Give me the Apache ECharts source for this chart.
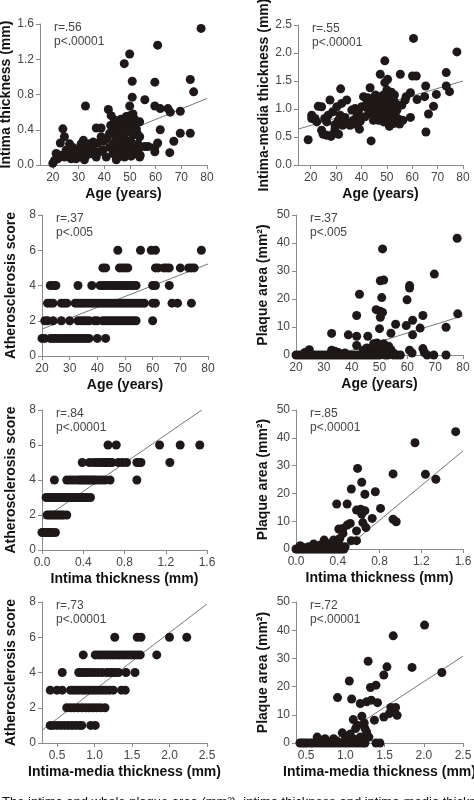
<!DOCTYPE html>
<html>
<head>
<meta charset="utf-8">
<script src="https://cdn.jsdelivr.net/npm/echarts@6/dist/echarts.min.js"></script>
<style>
html, body {margin: 0; padding: 0; background: #fff;}
#chart {width: 474px; height: 800px;}
</style>
</head>
<body>
<div id="chart"></div>
<script>
// age vs intima thickness (mm)
const ageIntima = [
    [77.7, 1.55], [60.8, 1.36], [49.9, 1.26], [47.8, 1.15], [50.9, 0.95], [59.7, 0.94], [73.5, 0.97], [74.8, 0.83],
    [32.7, 0.67], [50.9, 0.77], [55.8, 0.74], [59.7, 0.67], [61.8, 0.64], [64.8, 0.64], [65.7, 0.60], [69.6, 0.61],
    [41.6, 0.63], [49.9, 0.67], [48.6, 0.51], [51.2, 0.58], [53.8, 0.49], [61.8, 0.40], [60.8, 0.25], [69.6, 0.36],
    [73.5, 0.36], [67.1, 0.27], [65.5, 0.14], [59.7, 0.15], [59.7, 0.20], [55.8, 0.21], [57.1, 0.21], [23.9, 0.41],
    [24.5, 0.32], [22.9, 0.25], [26.5, 0.24], [36.9, 0.42], [38.8, 0.42], [38.8, 0.32], [44.0, 0.51], [43.4, 0.43],
    [44.7, 0.38], [42.1, 0.36], [46.0, 0.39], [47.3, 0.41], [49.2, 0.43], [51.2, 0.45], [52.5, 0.41], [51.2, 0.34],
    [53.8, 0.32], [45.3, 0.28], [43.4, 0.24], [42.1, 0.20], [47.3, 0.24], [49.2, 0.20], [51.2, 0.17], [52.5, 0.13],
    [53.8, 0.09], [45.3, 0.09], [43.4, 0.13], [40.8, 0.09], [38.2, 0.15], [35.6, 0.19], [34.3, 0.24], [33.0, 0.19],
    [31.7, 0.13], [30.4, 0.09], [28.4, 0.11], [27.8, 0.20], [29.7, 0.17], [25.8, 0.13], [24.5, 0.09], [23.2, 0.11],
    [21.9, 0.07], [20.6, 0.05], [20.0, 0.02], [21.3, 0.13], [35.0, 0.13], [36.9, 0.09], [32.3, 0.06], [27.1, 0.07],
    [39.5, 0.17], [46.6, 0.15], [47.9, 0.09], [44.7, 0.06], [50.5, 0.10], [54.0, 0.11], [48.6, 0.55], [49.9, 0.56],
    [42.7, 0.56], [46.6, 0.32], [48.6, 0.28], [50.5, 0.26], [53.1, 0.24], [31.0, 0.24], [29.0, 0.07], [25.2, 0.17],
    [35.7, 0.26], [31.9, 0.28], [41.0, 0.30], [42.5, 0.45], [44.5, 0.30], [45.5, 0.47], [46.5, 0.52], [47.5, 0.35],
    [48.0, 0.45], [49.5, 0.38], [50.0, 0.50], [51.8, 0.52], [52.8, 0.36], [53.5, 0.19], [44.0, 0.18], [46.0, 0.22],
    [48.0, 0.14], [50.0, 0.12], [37.5, 0.25], [39.8, 0.27], [33.8, 0.12], [26.7, 0.09], [28.9, 0.15], [30.7, 0.18]
];

// age vs intima-media thickness (mm)
const ageImt = [
    [19, 0.45], [60.5, 2.26], [77.6, 2.02], [49.2, 1.86], [55.3, 1.62], [47.4, 1.62], [60.1, 1.59], [61.6, 1.59],
    [73.4, 1.65], [31.8, 1.36], [43.4, 1.38], [50.3, 1.53], [49.2, 1.47], [65.3, 1.41], [73.4, 1.41], [74.7, 1.31],
    [69.5, 1.26], [61.9, 1.17], [59.3, 1.29], [64.9, 1.22], [68.4, 1.05], [59.3, 0.85], [66.4, 0.91], [65.4, 0.59],
    [43.8, 0.43], [39.2, 0.64], [55, 0.73], [51, 0.69], [23, 1.05], [24.3, 1.04], [26.9, 0.89], [20.4, 0.83],
    [22.4, 0.77], [26.3, 0.77], [24.3, 0.62], [24.9, 0.55], [26.3, 0.53], [28, 0.51], [28.9, 0.56], [29.6, 0.65],
    [27.6, 1.16], [28.7, 0.95], [31.6, 0.89], [30.9, 0.8], [32.6, 0.71], [34.5, 0.76], [34.2, 1.16], [36.2, 0.98],
    [37.5, 1.01], [38.2, 0.87], [40.8, 1.22], [42.1, 1.1], [42.8, 0.98], [41.4, 0.86], [43.4, 0.92], [44.7, 1.07],
    [46.1, 1.16], [47.4, 1.22], [48.7, 1.25], [50, 1.19], [51.3, 1.22], [52.6, 1.16], [53.7, 1.09], [52, 1.04],
    [50.7, 0.98], [49.3, 0.92], [48, 0.86], [46.7, 0.95], [45.4, 0.89], [44.7, 0.8], [46.7, 0.8], [48.7, 0.77],
    [50.3, 0.83], [52.6, 0.89], [54, 0.98], [55.9, 1.07], [57.2, 1.16], [50, 1.34], [49.3, 1.07], [48, 1.05],
    [46, 1.01], [40.1, 1.04], [38.8, 0.95], [36.8, 0.8], [35.5, 0.71], [20.4, 0.89], [21.7, 0.83], [30.3, 1.04],
    [32.2, 1.1], [54.3, 0.83], [56.3, 0.8], [52.6, 0.74], [57.6, 1.22], [44, 1.17], [45.5, 1.25], [47, 1.05],
    [49, 1.12], [50.8, 1.1], [51.8, 1.3], [53, 1.25], [48.2, 1.15], [46.5, 0.88], [49.8, 0.85], [51.5, 0.78],
    [42.5, 1.2], [39.5, 0.78], [37, 0.73], [33.5, 0.85], [29.5, 0.72], [31, 0.55], [25.5, 0.83]
];

// atherosclerosis score -> ages
const ageScore = [
    [6, [47.4, 55.6, 59.5, 61, 77.6]],
    [5, [42, 43, 48, 49, 50, 51, 61, 62, 64, 65, 66, 70, 73, 74, 75]],
    [4, [23, 24, 25, 33, 38, 41, 42, 43, 44, 45, 46, 47, 48, 49, 50, 51, 52, 53, 54, 60, 61, 66]],
    [3, [22, 23, 24, 27, 28, 29, 32, 33, 34, 35, 36, 37, 38, 39, 40, 41, 42, 43, 44, 45, 46, 47, 48, 49, 50, 51, 52, 53, 54, 55, 56, 57, 60, 61, 67, 69, 74]],
    [2, [21, 22, 24, 27, 30, 33, 34, 35, 36, 37, 39, 40, 42, 43, 44, 45, 46, 47, 48, 49, 50, 51, 52, 53, 54, 60]],
    [1, [19.5, 20, 21, 23, 24, 25, 26, 27, 28, 29, 30, 31, 32, 33, 34, 35, 36, 37, 40, 43]]
];

// age vs plaque area (mm2)
const agePlaque = [
    [77.9, 41.7], [51.1, 37.9], [69.7, 28.9], [50.3, 26.5], [51.5, 26.8], [42.8, 21.7], [60.8, 24.8], [60.8, 23.9],
    [50.8, 20.5], [59.9, 19.7], [48.8, 16.2], [50.3, 15.6], [51.1, 15.2], [50.3, 13.5], [41.8, 14.1], [78.1, 14.7],
    [65.6, 14.1], [61.9, 12.4], [59.6, 10.5], [64.6, 9.6], [73.9, 9.9], [50, 9.4], [55.8, 11], [54.1, 7.8],
    [38.8, 7.2], [32.8, 7.7], [61.9, 7.2], [41.8, 6.7], [45.8, 6.7], [41.8, 3.4], [49.1, 4.3], [47.9, 4],
    [51.5, 4], [50.5, 2.5], [52.1, 3.1], [45.4, 2.5], [44.2, 1.7], [65.6, 2.3], [60.8, 1.7], [66.1, 0.9],
    [61.7, 0.7], [67.1, 0], [69.5, 0], [73.9, 0], [54.1, 1.9], [55, 0.7], [56.3, 0], [57.5, 0],
    [24.4, 1.3], [24.8, 1.9], [23.2, 0.9], [32.8, 1.7], [34, 1.3], [35.2, 0.9], [37.6, 0.7], [46.7, 1.3],
    [47.9, 1.9], [49.1, 1.3], [50.8, 1.3], [52.6, 1.3], [53.3, 3.1],
    [20, 0], [21, 0], [22, 0], [23, 0], [24, 0], [25, 0], [26, 0], [27, 0], [28, 0], [29, 0], [30, 0], [31, 0],
    [32, 0], [33, 0], [34, 0], [35, 0], [36, 0], [37, 0], [38, 0], [39, 0], [40, 0], [41, 0], [42, 0], [43, 0],
    [44, 0], [45, 0], [46, 0], [47, 0], [48, 0], [49, 0], [50, 0], [52, 0], [53, 0], [55, 0]
];

// atherosclerosis score -> intima thickness
const intimaScore = [
    [6, [0.64, 0.72, 1.14, 1.34, 1.53]],
    [5, [0.39, 0.46, 0.5, 0.53, 0.56, 0.58, 0.6, 0.62, 0.64, 0.66, 0.68, 0.74, 0.78, 0.82, 0.92, 0.94, 0.96, 1.24]],
    [4, [0.12, 0.24, 0.27, 0.3, 0.33, 0.36, 0.38, 0.4, 0.42, 0.44, 0.46, 0.48, 0.5, 0.52, 0.55, 0.58, 0.61, 0.66, 0.92]],
    [3, [0.04, 0.06, 0.08, 0.1, 0.12, 0.14, 0.16, 0.18, 0.2, 0.22, 0.24, 0.26, 0.28, 0.3, 0.32, 0.34, 0.36, 0.38, 0.4, 0.42, 0.44, 0.47]],
    [2, [0.05, 0.07, 0.09, 0.11, 0.13, 0.15, 0.17, 0.19, 0.21, 0.24]],
    [1, [0, 0.02, 0.04, 0.06, 0.08, 0.1, 0.13]]
];

// intima thickness vs plaque area
const intimaPlaque = [
    [1.53, 42.2], [1.14, 38.2], [1.24, 26.9], [1.34, 25.1], [0.93, 27], [0.59, 29], [0.63, 24], [0.53, 21.6],
    [0.66, 19.7], [0.76, 20.6], [0.49, 16.2], [0.39, 16.2], [0.58, 14], [0.62, 14.3], [0.66, 13.8], [0.63, 12.6],
    [0.81, 14.6], [0.73, 11], [0.93, 10.7], [0.96, 9.8], [0.64, 9.5], [0.67, 7.7], [0.58, 6.5], [0.58, 3],
    [0.41, 7.2], [0.45, 7.4], [0.49, 8.6], [0.52, 9.2], [0.45, 5.6], [0.42, 3.8], [0.39, 2.6], [0.36, 3.2],
    [0.33, 2], [0.27, 3.2], [0.23, 1.4], [0.17, 1.8], [0.12, 0.8], [0.04, 1.2], [0.53, 3], [0.07, 0.5],
    [0.2, 0.5], [0.29, 0.8], [0.36, 0.8], [0.42, 1.4], [0.47, 0.8], [0.28, 1.4],
    [0, 0], [0.02, 0], [0.04, 0], [0.06, 0], [0.08, 0], [0.1, 0], [0.12, 0], [0.14, 0], [0.16, 0], [0.18, 0],
    [0.2, 0], [0.22, 0], [0.24, 0], [0.26, 0], [0.28, 0], [0.3, 0], [0.32, 0], [0.34, 0], [0.36, 0], [0.38, 0],
    [0.4, 0], [0.42, 0], [0.44, 0], [0.46, 0]
];

// atherosclerosis score -> intima-media thickness
const imtScore = [
    [6, [1.27, 1.57, 1.62, 2.0, 2.23]],
    [5, [0.85, 1.01, 1.05, 1.09, 1.13, 1.17, 1.21, 1.25, 1.29, 1.33, 1.37, 1.41, 1.45, 1.49, 1.53, 1.57, 1.61, 1.83]],
    [4, [0.57, 0.79, 0.83, 0.87, 0.91, 0.95, 1.0, 1.05, 1.1, 1.16, 1.2, 1.24, 1.28, 1.32, 1.42, 1.54]],
    [3, [0.41, 0.5, 0.57, 0.68, 0.72, 0.76, 0.8, 0.84, 0.88, 0.92, 0.96, 1.0, 1.04, 1.08, 1.12, 1.16, 1.2, 1.25, 1.36, 1.41]],
    [2, [0.63, 0.68, 0.73, 0.78, 0.83, 0.88, 0.93, 0.98, 1.03, 1.08, 1.14]],
    [1, [0.41, 0.45, 0.5, 0.55, 0.6, 0.65, 0.7, 0.75, 0.8, 0.83, 0.95, 1.01]]
];

// intima-media thickness vs plaque area
const imtPlaque = [
    [2.01, 41.8], [1.61, 38], [1.85, 26.8], [2.23, 25], [1.53, 27], [1.49, 24.1], [1.29, 29], [1.05, 22],
    [0.9, 16.1], [1.08, 15.6], [1.19, 14], [1.27, 14.6], [1.33, 15.2], [1.39, 20.5], [1.32, 19.7], [1.41, 14.3],
    [1.58, 12.6], [1.61, 11.6], [1.64, 12.6], [1.66, 9.8], [1.49, 9.2], [1.56, 10.4], [1.37, 8.1], [1.1, 8.3],
    [1.15, 6.3], [1.21, 9.5], [1.24, 7.1], [1.25, 5.1], [1.27, 3.9], [1.3, 2.1], [1.23, 1.5], [1.13, 5.1],
    [1.06, 3.1], [0.96, 3.6], [0.85, 1.5], [0.64, 2.1], [0.74, 1.5], [1, 1.5], [1.1, 1.5], [1.39, 0],
    [1.44, 0], [0.76, 0.7], [0.89, 0.7], [1.04, 0.7], [1.15, 0.7], [1.19, 2.1],
    [0.42, 0], [0.45, 0], [0.48, 0], [0.51, 0], [0.55, 0], [0.58, 0], [0.62, 0], [0.66, 0], [0.7, 0], [0.74, 0],
    [0.78, 0], [0.82, 0], [0.86, 0], [0.9, 0], [0.94, 0], [0.98, 0], [1.02, 0], [1.06, 0], [1.1, 0], [1.14, 0],
    [1.18, 0], [1.22, 0], [1.25, 0]
];

// regression line end points
const fitAgeIntima = [[20, 0.04], [80, 0.755]];
const fitAgeImt = [[15, 0.64], [80, 1.5]];
const fitAgeScore = [[20, 1.53], [80, 5.22]];
const fitAgePlaque = [[34.5, 0], [80, 14]];
const fitIntimaScore = [[0, 1.73], [1.55, 8]];
const fitIntimaPlaque = [[0.47, 0], [1.6, 35.3]];
const fitImtScore = [[0.3, 0.72], [2.5, 7.89]];
const fitImtPlaque = [[0.8, 0], [2.5, 30.8]];

const ageTicks = [20, 30, 40, 50, 60, 70, 80];
const imtTicks = [0.5, 1.0, 1.5, 2.0, 2.5];

const byScore = rows => rows.flatMap(([score, xs]) => xs.map(x => [x, score]));

const FONT = 'Arial, "Liberation Sans", sans-serif';
const DOT = '#1f1818';
const AXIS = '#8a8a8a';

const ageAxis = {min: 15, max: 80, ticks: ageTicks, dec: 0};
const intimaAxis = {min: 0, max: 1.6, step: 0.4, dec: 1};
const imtAxis = {min: 0.3, max: 2.5, ticks: imtTicks, dec: 1};
const scoreAxis = {min: 0, max: 8, step: 2, dec: 0};
const plaqueAxis = {min: 0, max: 50, step: 10, dec: 0};
const plaqueName = 'Plaque area (mm\u00b2)';

const panels = [
    {data: ageIntima, fit: fitAgeIntima, r: 'r=.56', p: 'p<.00001', x: ageAxis, y: intimaAxis,
        xName: 'Age (years)', yName: 'Intima thickness (mm)', grid: {left: 40, top: 24, width: 167, height: 141}, yGap: 16},
    {data: ageImt, fit: fitAgeImt, r: 'r=.55', p: 'p<.00001', x: {...ageAxis, min: 15}, y: {min: 0, max: 2.5, step: 0.5, dec: 1},
        xName: 'Age (years)', yName: 'Intima-media thickness (mm)', grid: {left: 298, top: 25, width: 165, height: 140}, yGap: 24},
    {data: byScore(ageScore), fit: fitAgeScore, r: 'r=.37', p: 'p<.005', x: {...ageAxis, min: 20, ticks: null, step: 10}, y: scoreAxis,
        xName: 'Age (years)', yName: 'Atherosclerosis score', grid: {left: 42, top: 215, width: 166, height: 141}, yGap: 24},
    {data: agePlaque, fit: fitAgePlaque, r: 'r=.37', p: 'p<.005', x: {...ageAxis, min: 20, ticks: null, step: 10}, y: plaqueAxis,
        xName: 'Age (years)', yName: plaqueName, grid: {left: 296, top: 215, width: 167, height: 140}, yGap: 26},
    {data: byScore(intimaScore), fit: fitIntimaScore, r: 'r=.84', p: 'p<.00001', x: intimaAxis, y: scoreAxis,
        xName: 'Intima thickness (mm)', yName: 'Atherosclerosis score', grid: {left: 42, top: 410, width: 165, height: 140}, yGap: 24},
    {data: intimaPlaque, fit: fitIntimaPlaque, r: 'r=.85', p: 'p<.00001', x: intimaAxis, y: plaqueAxis,
        xName: 'Intima thickness (mm)', yName: plaqueName, grid: {left: 296, top: 410, width: 167, height: 139}, yGap: 26},
    {data: byScore(imtScore), fit: fitImtScore, r: 'r=.73', p: 'p<.00001', x: imtAxis, y: scoreAxis,
        xName: 'Intima-media thickness (mm)', yName: 'Atherosclerosis score', grid: {left: 42, top: 602, width: 165, height: 141}, yGap: 24},
    {data: imtPlaque, fit: fitImtPlaque, r: 'r=.72', p: 'p<.00001', x: {...imtAxis, min: 0.37}, y: plaqueAxis,
        xName: 'Intima-media thickness (mm)', yName: plaqueName, grid: {left: 296, top: 602, width: 167, height: 141}, yGap: 26}
];

const makeAxis = (cfg, idx, name, gap, isY) => {
    const axis = {
        type: 'value',
        gridIndex: idx,
        min: cfg.min,
        max: cfg.max,
        name: name,
        nameLocation: 'middle',
        nameGap: gap,
        nameTextStyle: {fontFamily: FONT, fontWeight: 'bold', fontSize: 14, color: '#111'},
        axisLine: {show: true, onZero: false, lineStyle: {color: AXIS, width: 1}},
        axisTick: {show: true, inside: false, length: 4, lineStyle: {color: AXIS}},
        axisLabel: {
            show: true,
            margin: isY ? 6 : 7,
            fontFamily: FONT,
            fontSize: 12,
            color: '#444',
            formatter: v => v.toFixed(cfg.dec)
        },
        splitLine: {show: false}
    };
    if (cfg.ticks) {
        axis.axisLabel.customValues = cfg.ticks;
        axis.axisTick.customValues = cfg.ticks;
    } else {
        axis.interval = cfg.step;
    }
    return axis;
};

const option = {
    animation: false,
    backgroundColor: '#fff',
    grid: panels.map(p => ({...p.grid, containLabel: false, outerBoundsMode: 'none'})),
    xAxis: panels.map((p, i) => makeAxis(p.x, i, p.xName, 22, false)),
    yAxis: panels.map((p, i) => makeAxis(p.y, i, p.yName, p.yGap, true)),
    series: panels.flatMap((p, i) => [
        {
            type: 'line',
            xAxisIndex: i,
            yAxisIndex: i,
            data: p.fit,
            symbol: 'none',
            silent: true,
            z: 1,
            lineStyle: {color: '#777', width: 1}
        },
        {
            type: 'scatter',
            xAxisIndex: i,
            yAxisIndex: i,
            data: p.data,
            symbolSize: 9,
            z: 2,
            itemStyle: {color: DOT, opacity: 1, borderWidth: 0}
        }
    ]),
    graphic: panels.flatMap(p => [
        {type: 'text', x: p.grid.left + 14, y: p.grid.top + 4,
            style: {text: p.r, font: '12px ' + FONT, fill: '#444', verticalAlign: 'middle'}},
        {type: 'text', x: p.grid.left + 14, y: p.grid.top + 18,
            style: {text: p.p, font: '12px ' + FONT, fill: '#444', verticalAlign: 'middle'}}
    ]).concat([
        {type: 'text', x: 2, y: 796,
            style: {text: 'The intima and whole plaque area (mm\u00b2), intima thickness and intima-media thickness and',
                font: '13px ' + FONT, fill: '#111', verticalAlign: 'top'}}
    ])
};

const chart = echarts.init(document.getElementById('chart'), null, {renderer: 'canvas'});
chart.setOption(option);
</script>
</body>
</html>
